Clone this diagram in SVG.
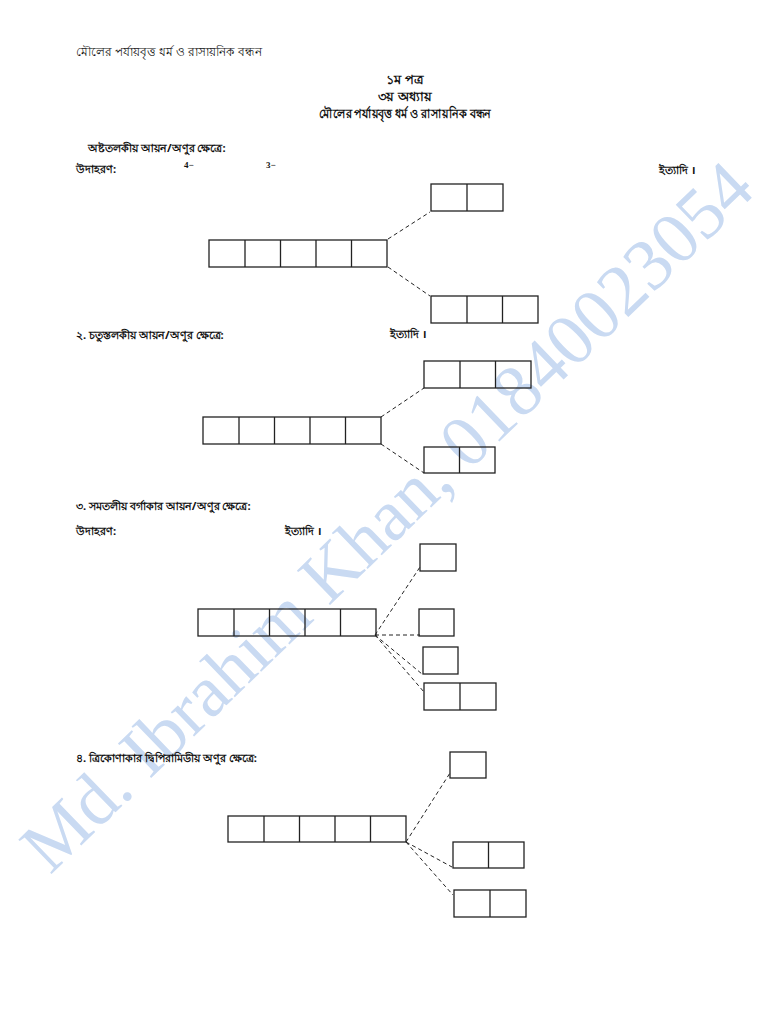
<svg xmlns="http://www.w3.org/2000/svg" width="768" height="1024" viewBox="0 0 768 1024">
<style>
text{font-family:"Noto Sans","Liberation Sans",sans-serif;fill:#111;}
.hd{font-size:12px;}
.tt{font-size:13px;font-weight:bold;}
.lb{font-size:11.2px;font-weight:bold;}
.sup{font-size:9px;font-weight:bold;font-family:"Liberation Serif",serif;}
.cell{fill:none;stroke:#222;stroke-width:1.3;}
.dash{fill:none;stroke:#222;stroke-width:1;stroke-dasharray:4 3;}
.wm{font-family:"Liberation Serif",serif;font-size:73px;fill:#c9daf2;}
</style>
<rect width="768" height="1024" fill="#fff"/>
<g id="watermark"><text class="wm" transform="translate(392,522) rotate(-44)" text-anchor="middle" dominant-baseline="middle">Md. Ibrahim Khan, 01840023054</text></g>
<g id="texts">
<text class="hd" x="76" y="56">মৌলের পর্যায়বৃত্ত ধর্ম ও রাসায়নিক বন্ধন</text>
<text class="tt" x="405" y="84" text-anchor="middle">১ম পত্র</text>
<text class="tt" x="405" y="101" text-anchor="middle">৩য় অধ্যায়</text>
<text class="tt" x="405" y="118" text-anchor="middle" textLength="172" lengthAdjust="spacingAndGlyphs">মৌলের পর্যায়বৃত্ত ধর্ম ও রাসায়নিক বন্ধন</text>
<text class="lb" x="88" y="152">অষ্টতলকীয় আয়ন/অণুর ক্ষেত্রে:</text>
<text class="lb" x="76" y="173">উদাহরণ:</text>
<text class="sup" x="184" y="168">4−</text>
<text class="sup" x="266" y="168">3−</text>
<text class="lb" x="659" y="174">ইত্যাদি ।</text>
<text class="lb" x="76" y="339">২. চতুস্তলকীয় আয়ন/অণুর ক্ষেত্রে:</text>
<text class="lb" x="390" y="338">ইত্যাদি ।</text>
<text class="lb" x="76" y="510">৩. সমতলীয় বর্গাকার আয়ন/অণুর ক্ষেত্রে:</text>
<text class="lb" x="76" y="535">উদাহরণ:</text>
<text class="lb" x="285" y="535">ইত্যাদি ।</text>
<text class="lb" x="76" y="762">৪. ত্রিকোণাকার দ্বিপিরামিডীয় অণুর ক্ষেত্রে:</text>
</g>
<g id="connectors">
<line class="dash" x1="388" y1="239" x2="430" y2="212"/>
<line class="dash" x1="388" y1="267" x2="430" y2="296"/>
<line class="dash" x1="381" y1="417" x2="424" y2="388"/>
<line class="dash" x1="381" y1="444" x2="424" y2="473"/>
<line class="dash" x1="375" y1="635" x2="420" y2="567"/>
<line class="dash" x1="375" y1="635" x2="420" y2="635"/>
<line class="dash" x1="375" y1="635" x2="422" y2="674"/>
<line class="dash" x1="375" y1="635" x2="424" y2="692"/>
<line class="dash" x1="406" y1="842" x2="450" y2="773"/>
<line class="dash" x1="406" y1="842" x2="452" y2="867"/>
<line class="dash" x1="406" y1="842" x2="453" y2="895"/>
</g>
<g id="g1-main"><rect class="cell" x="209" y="240" width="178" height="27"/><path class="cell" d="M245 240V267M280.5 240V267M316 240V267M351.5 240V267"/></g>
<g id="g1-top"><rect class="cell" x="431" y="184" width="72" height="27"/><path class="cell" d="M467 184V211"/></g>
<g id="g1-bottom"><rect class="cell" x="431" y="296" width="107" height="27"/><path class="cell" d="M467 296V323M502.5 296V323"/></g>
<g id="g2-main"><rect class="cell" x="203" y="417" width="178" height="27"/><path class="cell" d="M239 417V444M274.5 417V444M310 417V444M345.5 417V444"/></g>
<g id="g2-top"><rect class="cell" x="424" y="361" width="107" height="27"/><path class="cell" d="M460 361V388M495.5 361V388"/></g>
<g id="g2-bottom"><rect class="cell" x="424" y="447" width="71" height="26"/><path class="cell" d="M459.5 447V473"/></g>
<g id="g3-main"><rect class="cell" x="198" y="609" width="178" height="27"/><path class="cell" d="M234 609V636M269.5 609V636M305 609V636M340.5 609V636"/></g>
<g id="g3-a"><rect class="cell" x="420" y="544" width="36" height="27"/></g>
<g id="g3-b"><rect class="cell" x="419" y="609" width="35" height="27"/></g>
<g id="g3-c"><rect class="cell" x="423" y="647" width="35" height="27"/></g>
<g id="g3-d"><rect class="cell" x="424" y="683" width="72" height="27"/><path class="cell" d="M460 683V710"/></g>
<g id="g4-main"><rect class="cell" x="228" y="816" width="178" height="26"/><path class="cell" d="M264 816V842M299.5 816V842M335 816V842M370.5 816V842"/></g>
<g id="g4-top"><rect class="cell" x="450" y="752" width="36" height="26"/></g>
<g id="g4-mid"><rect class="cell" x="453" y="842" width="71" height="26"/><path class="cell" d="M488.5 842V868"/></g>
<g id="g4-bottom"><rect class="cell" x="454" y="890" width="72" height="27"/><path class="cell" d="M490 890V917"/></g>
</svg>
